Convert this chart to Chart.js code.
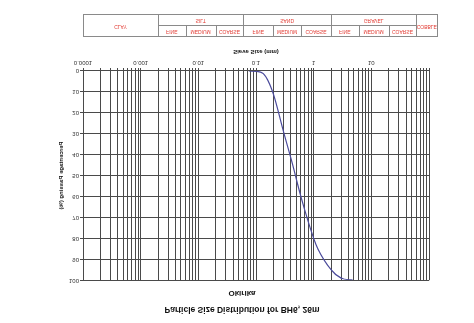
<!DOCTYPE html>
<html>
<head>
<meta charset="utf-8">
<script src="https://cdn.jsdelivr.net/npm/chart.js@4.4.1/dist/chart.umd.min.js"></script>
<style>
  html, body { margin:0; padding:0; background:#fff; }
  /* the reference sheet is mirrored top-to-bottom */
  #wrap { width:474px; height:323px; position:relative; transform:scaleY(-1); }
</style>
</head>
<body>
<div id="wrap"><canvas id="psdChart"></canvas></div>
<script>
'use strict';

// sieve analysis – BH6 @ 26m
const SIEVE_MM = [0.075, 0.12, 0.15, 0.2, 0.3, 0.425, 0.6, 1.0, 1.18, 2.0, 3.0, 4.75];
const PASSING  = [0, 0.5, 3, 11, 29, 44, 60, 80, 85, 95, 99, 100];

const X_DECADES = [0.0001, 0.001, 0.01, 0.1, 1, 10, 100];
const X_LABELS  = ['0.0001', '0.001', '0.01', '0.1', '1', '10', ''];
const Y_MIN = 0, Y_MAX = 100, Y_STEP = 10;

// soil classification band under the chart (limits in mm)
const CLASS_NAMES = ['CLAY', 'SILT', 'SAND', 'GRAVEL', 'COBBLE'];
const CLASS_EDGES = [0.0001, 0.002, 0.06, 2, 60, 140];
const SUB_NAMES   = ['FINE', 'MEDIUM', 'COARSE'];
const SUB_EDGES   = [0.002, 0.006, 0.02, 0.06, 0.2, 0.6, 2, 6, 20, 60];

const FONT = "'Liberation Sans', Arial, sans-serif";
const GRID = '#4a4a4a';

// every 1..9 line inside each decade
const gridTicks = [];
X_DECADES.slice(0, -1).forEach(d => { for (let k = 1; k <= 9; k++) gridTicks.push(d * k); });
gridTicks.push(X_DECADES[X_DECADES.length - 1]);

const soilBand = {
  id: 'soilBand',
  afterDraw(chart) {
    const { ctx } = chart, xs = chart.scales.x;
    const top = 286, mid = 297, bot = 308;
    const px = v => Math.round(xs.getPixelForValue(v)) + 0.5;
    ctx.save();
    ctx.strokeStyle = '#8a8a8a';
    ctx.lineWidth = 1;
    const L = px(CLASS_EDGES[0]), R = px(CLASS_EDGES[CLASS_EDGES.length - 1]);
    ctx.strokeRect(L, top + 0.5, R - L, bot - top);
    ctx.beginPath();
    ctx.moveTo(px(CLASS_EDGES[1]), mid + 0.5); ctx.lineTo(px(CLASS_EDGES[4]), mid + 0.5);
    CLASS_EDGES.slice(1, -1).forEach(v => { ctx.moveTo(px(v), top); ctx.lineTo(px(v), bot); });
    SUB_EDGES.forEach(v => { ctx.moveTo(px(v), top); ctx.lineTo(px(v), mid); });
    ctx.stroke();

    ctx.fillStyle = '#e23a32';
    ctx.font = '5px ' + FONT;
    ctx.textAlign = 'center';
    ctx.textBaseline = 'middle';
    const cx = (a, b) => (xs.getPixelForValue(a) + xs.getPixelForValue(b)) / 2;
    for (let i = 0; i < SUB_EDGES.length - 1; i++) {
      ctx.fillText(SUB_NAMES[i % 3], cx(SUB_EDGES[i], SUB_EDGES[i + 1]), (top + mid) / 2 + 0.5);
    }
    CLASS_NAMES.forEach((n, i) => {
      const full = i === 0 || i === CLASS_NAMES.length - 1;
      ctx.fillText(n, cx(CLASS_EDGES[i], CLASS_EDGES[i + 1]), full ? (top + bot) / 2 : (mid + bot) / 2 + 0.5);
    });
    ctx.restore();
  }
};

new Chart(document.getElementById('psdChart'), {
  type: 'line',
  data: {
    datasets: [{
      label: 'BH6 26m',
      data: SIEVE_MM.map((s, i) => ({ x: s, y: PASSING[i] })),
      borderColor: '#4c4c9c',
      borderWidth: 1.2,
      pointRadius: 0,
      cubicInterpolationMode: 'monotone',
      fill: false
    }]
  },
  options: {
    responsive: true, maintainAspectRatio: false, animation: false,
    layout: { padding: { left: 55, right: 45, top: 0, bottom: 48 } },
    plugins: {
      legend: { display: false },
      tooltip: { enabled: false },
      title: { display: true, text: 'Particle Size Distribution for BH6, 26m', color: '#111',
               font: { family: FONT, size: 8.5, weight: 'bold' }, padding: { top: 9, bottom: 6 } },
      subtitle: { display: true, text: 'Okirika', color: '#111',
                  font: { family: FONT, size: 8, weight: 'bold' }, padding: { top: 0, bottom: 8 } }
    },
    scales: {
      x: {
        type: 'logarithmic', min: X_DECADES[0], max: X_DECADES[X_DECADES.length - 1],
        afterBuildTicks: s => { s.ticks = gridTicks.map(v => ({ value: v })); },
        afterFit: s => { s.height = 23; },
        grid: { color: GRID, lineWidth: 1, tickLength: 3 },
        border: { color: GRID },
        ticks: {
          autoSkip: false, maxRotation: 0, minRotation: 0, padding: 2,
          color: '#333', font: { family: FONT, size: 6 },
          callback: v => { const i = X_DECADES.indexOf(v); return i >= 0 ? X_LABELS[i] : ''; }
        },
        title: { display: true, text: 'Sieve Size (mm)', color: '#111',
                 font: { family: FONT, size: 6, weight: 'bold' }, padding: { top: 4, bottom: 0 } }
      },
      y: {
        min: Y_MIN, max: Y_MAX,
        afterFit: s => { s.width = 28; },
        grid: { color: GRID, lineWidth: 1, tickLength: 3 },
        border: { color: GRID },
        ticks: { stepSize: Y_STEP, padding: 1, color: '#333', font: { family: FONT, size: 6 } },
        title: { display: true, text: 'Percentage Passing (%)', color: '#111',
                 font: { family: FONT, size: 6, weight: 'bold' }, padding: { top: 3, bottom: 3 } }
      }
    }
  },
  plugins: [soilBand]
});
</script>
</body>
</html>
